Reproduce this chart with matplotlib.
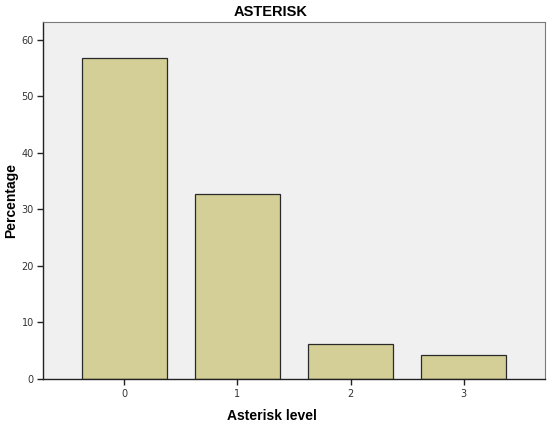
import numpy as np
import matplotlib
matplotlib.use("Agg")
import matplotlib.pyplot as plt

levels = ["0", "1", "2", "3"]
percentages = [56.8, 32.7, 6.2, 4.3]

fig = plt.figure(figsize=(5.5, 4.28), dpi=100)
ax = fig.add_axes([0.079, 0.1145, 0.912, 0.834])
ax.set_facecolor("#f0f0f0")

x = np.arange(len(levels))
ax.bar(x, percentages, width=0.75, color="#d4cf96", edgecolor="#2a2a2a", linewidth=0.9, zorder=2)

ax.set_xlim(-0.715, 3.72)
ax.set_ylim(0, 63.1)
ax.set_xticks(x)
ax.set_xticklabels(levels)
ax.set_yticks([0, 10, 20, 30, 40, 50, 60])
ax.tick_params(axis="both", direction="out", length=4, width=1, colors="#222222",
               labelsize=7, labelcolor="#333333", pad=3)

for side in ["left", "bottom"]:
    ax.spines[side].set_color("#222222")
    ax.spines[side].set_linewidth(1)
for side in ["top", "right"]:
    ax.spines[side].set_color("#7a7a7a")
    ax.spines[side].set_linewidth(0.8)

fig.text(271 / 550, 1 - 12 / 428, "ASTERISK", ha="center", va="center",
         fontsize=10.5, fontweight="bold", family="Liberation Sans")
fig.text(272 / 550, 1 - 416 / 428, "Asterisk level", ha="center", va="center",
         fontsize=10, fontweight="bold", family="Liberation Sans")
fig.text(11 / 550, 1 - 200 / 428, "Percentage", ha="center", va="center", rotation=90,
         fontsize=10, fontweight="bold", family="Liberation Sans")

fig.savefig("out.png", dpi=100)
